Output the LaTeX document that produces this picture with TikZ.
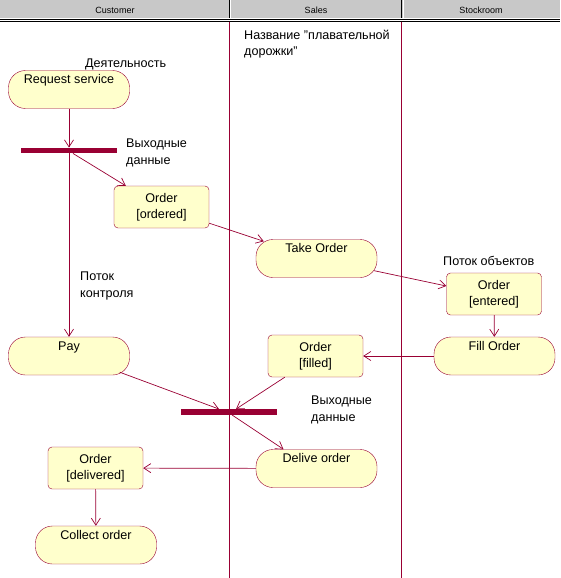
\documentclass[tikz,border=0pt]{standalone}
\usepackage{fontspec}
\setmainfont{Liberation Sans}
\usetikzlibrary{arrows.meta}
\definecolor{umlred}{RGB}{153,0,51}
\definecolor{umlfill}{RGB}{255,255,204}
\definecolor{headgray}{RGB}{200,200,200}
\tikzset{
 activity/.style={draw=umlred,fill=umlfill,rounded corners=17pt,minimum width=121pt,inner sep=2pt,text height=11pt,text depth=23pt,font=\fontsize{12.6}{14}\selectfont},
 object/.style={draw=umlred,fill=umlfill,rounded corners=4pt,minimum width=95pt,minimum height=42pt,align=center,inner sep=1pt,font=\fontsize{12.6}{16}\selectfont},
 bar/.style={fill=umlred,minimum width=96pt,minimum height=5.5pt,inner sep=0pt},
 flow/.style={draw=umlred,line width=0.7pt,-{Straight Barb[length=7pt,width=9pt]}},
 note/.style={inner sep=0pt,align=left,font=\fontsize{12.6}{16.5}\selectfont},
 lane/.style={inner sep=0pt,font=\fontsize{9}{10}\selectfont}
}
\begin{document}
\begin{tikzpicture}[x=1pt,y=-1pt]
\useasboundingbox (0,0) rectangle (560,578);
%Swimlanes
\fill[headgray] (0,0) rectangle (560,18);
\draw[black,line width=0.8pt] (0,19.3) -- (560,19.3);
\draw[black,line width=0.8pt] (0,21.7) -- (560,21.7);
\draw[black,line width=0.8pt] (229.3,0) -- (229.3,18);
\draw[black,line width=0.8pt] (401.7,0) -- (401.7,18);
\draw[white,line width=0.8pt] (230.5,0) -- (230.5,18);
\draw[white,line width=0.8pt] (402.9,0) -- (402.9,18);
\draw[umlred,line width=0.8pt] (229.3,22) -- (229.3,578);
\draw[umlred,line width=0.8pt] (401.7,22) -- (401.7,578);
\node[lane] (Lane1) at (115,10) {Customer};
\node[lane] (Lane2) at (316,10) {Sales};
\node[lane] (Lane3) at (481,10) {Stockroom};
%Node Coordinates
\node[activity] (Act1) at (69,89.5) {Request service};
\node[bar] (Bar1) at (69,150.5) {};
\node[object] (Obj1) at (161.5,207) {Order\\{}[ordered]};
\node[activity] (Act2) at (316.5,258.5) {Take Order};
\node[object] (Obj2) at (494,294) {Order\\{}[entered]};
\node[activity] (Act3) at (494.5,356) {Fill Order};
\node[object] (Obj3) at (315.5,356) {Order\\{}[filled]};
\node[activity] (Act4) at (69,356) {Pay};
\node[bar] (Bar2) at (229,412) {};
\node[activity] (Act5) at (316.5,468.5) {Delive order};
\node[object] (Obj4) at (95.5,468) {Order\\{}[delivered]};
\node[activity] (Act6) at (96,545) {Collect order};
%Labels (base = last line)
\node[note,anchor=base west] (Lbl1) at (85,67) {Деятельность};
\node[note,anchor=base west] (Lbl2) at (244,56) {Название "плавательной\\дорожки"};
\node[note,anchor=base west] (Lbl3) at (126,164) {Выходные\\данные};
\node[note,anchor=base west] (Lbl4) at (80,297) {Поток\\контроля};
\node[note,anchor=base west] (Lbl5) at (443,265) {Поток объектов};
\node[note,anchor=base west] (Lbl6) at (311,421) {Выходные\\данные};
%connections
\draw[flow] (Act1) -- (Bar1);
\draw[flow] (Bar1) -- (Act4);
\draw[flow] ([xshift=4pt]Bar1.south) -- ([xshift=12pt]Obj1.north west);
\draw[flow] ([yshift=5pt]Obj1.south east) -- ([xshift=8pt,yshift=-2pt]Act2.north west);
\draw[flow] ([xshift=-3pt,yshift=7pt]Act2.south east) -- ([yshift=8pt]Obj2.west);
\draw[flow] (Obj2) -- (Act3);
\draw[flow] (Act3) -- (Obj3);
\draw[flow] ([xshift=17pt]Obj3.south west) -- ([xshift=7pt]Bar2.north);
\draw[flow] ([xshift=-10pt,yshift=3pt]Act4.south east) -- ([xshift=-10pt]Bar2.north);
\draw[flow] ([xshift=3pt]Bar2.south) -- ([xshift=-33pt]Act5.north);
\draw[flow] (Act5) -- (Obj4);
\draw[flow] (Obj4) -- (Act6);
\end{tikzpicture}
\end{document}
